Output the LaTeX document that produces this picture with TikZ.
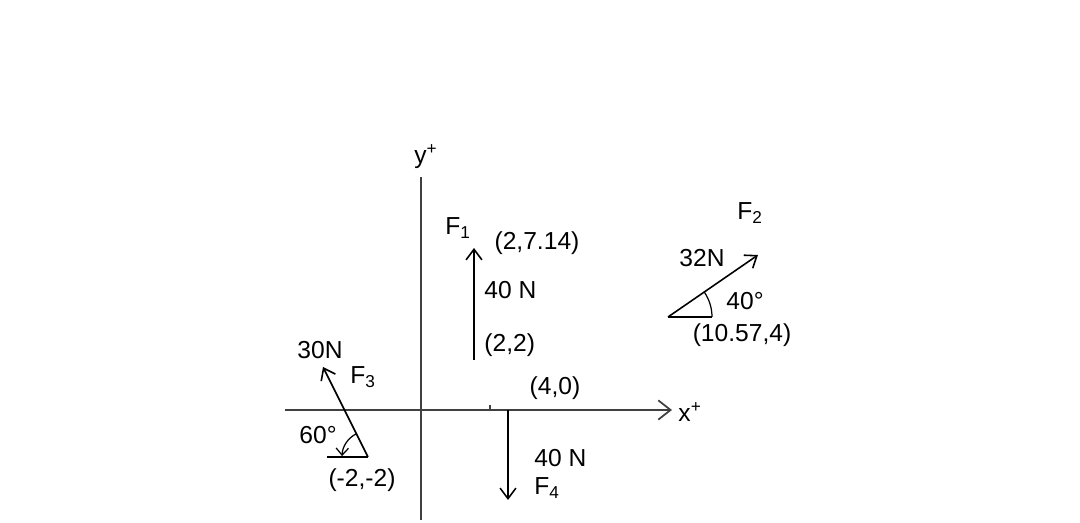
\documentclass[tikz,border=0pt]{standalone}
\usepackage{fontspec}
\setmainfont{Liberation Sans}
\usetikzlibrary{arrows.meta}
\tikzset{
    lbl/.style={
           inner sep=1pt,
           font=\fontsize{14}{16}\selectfont
           },
    force/.style={
           -{Straight Barb[length=6pt,width=9pt]},
           line width=0.9pt
           },
    axis/.style={
           line width=1pt,
           draw=black!75
           },
}
\begin{document}
\begin{tikzpicture}[x=0.02cm,y=0.02cm,thick]
            \useasboundingbox (0,0) rectangle (1080,523);

            % axes
            \coordinate (YBOT) at (421,3);
            \coordinate (YTOP) at (421,346);
            \coordinate (XLEFT) at (285,113);
            \coordinate (XRIGHT) at (672,113);
            \draw[axis] (YBOT) -- (YTOP);
            \draw[axis, -{Straight Barb[length=7pt,width=11pt]}] (XLEFT) -- (XRIGHT);
            \node[lbl, anchor=south] (YLAB) at (426,352) {y\textsuperscript{+}};
            \node[lbl, anchor=west] (XLAB) at (676,111) {x\textsuperscript{+}};
            \draw[axis, line width=0.6pt] (490,113) -- (490,118);

            % F1
            \coordinate (F1TAIL) at (474,163);
            \coordinate (F1TIP) at (474,275);
            \draw[force] (F1TAIL) -- (F1TIP);
            \node[lbl] (F1) at (458,295) {F\textsubscript{1}};
            \node[lbl] (F1END) at (537,280) {(2,7.14)};
            \node[lbl, anchor=west] (F1MAG) at (482,233) {40 N};
            \node[lbl, anchor=west] (F1START) at (482,178) {(2,2)};

            % F2
            \coordinate (F2TAIL) at (668,206);
            \coordinate (F2TIP) at (758,268);
            \coordinate (F2BASE) at (712,206);
            \draw[force] (F2TAIL) -- (F2TIP);
            \draw[line width=0.9pt] (F2TAIL) -- (F2BASE);
            \draw[line width=0.7pt] ([shift={(0:44)}]F2TAIL) arc (0:34.6:44);
            \node[lbl] (F2) at (750,310) {F\textsubscript{2}};
            \node[lbl] (F2MAG) at (702,265) {32N};
            \node[lbl, anchor=west] (F2ANG) at (724,222) {40°};
            \node[lbl] (F2START) at (742,188) {(10.57,4)};

            % F3
            \coordinate (F3TAIL) at (368,66);
            \coordinate (F3TIP) at (323,156);
            \coordinate (F3BASE) at (327,66);
            \draw[force] (F3TAIL) -- (F3TIP);
            \draw[line width=0.9pt] (F3TAIL) -- (F3BASE);
            \draw[line width=0.7pt, -{Straight Barb[length=4pt,width=7pt]}]
                 ([shift={(116.6:26)}]F3TAIL) arc (116.6:178:26);
            \node[lbl] (F3) at (363,146) {F\textsubscript{3}};
            \node[lbl] (F3MAG) at (320,173) {30N};
            \node[lbl] (F3ANG) at (318,88) {60°};
            \node[lbl] (F3START) at (362,43) {(-2,-2)};

            % F4
            \coordinate (F4TAIL) at (508,113);
            \coordinate (F4TIP) at (508,23);
            \draw[force] (F4TAIL) -- (F4TIP);
            \node[lbl] (F4POS) at (555,135) {(4,0)};
            \node[lbl, anchor=west] (F4MAG) at (532,65) {40 N};
            \node[lbl, anchor=west] (F4) at (532,35) {F\textsubscript{4}};

        \end{tikzpicture}
\end{document}
